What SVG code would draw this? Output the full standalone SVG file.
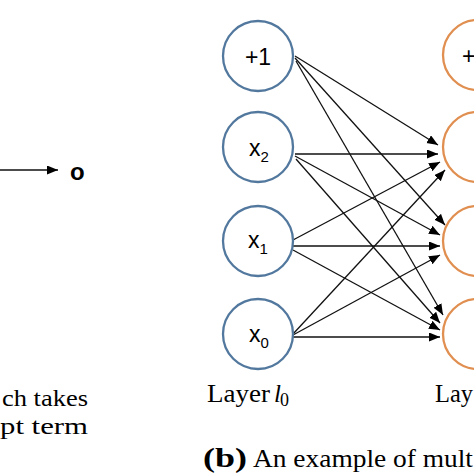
<svg xmlns="http://www.w3.org/2000/svg" width="474" height="474" viewBox="0 0 474 474">
<style>
.in{fill:#fff;stroke:#52789e;stroke-width:2.3}
.out{fill:#fff;stroke:#e08f50;stroke-width:2.3}
.lbl{font-family:"Liberation Sans",Arial,sans-serif;font-size:23px;fill:#000}
.sub{font-size:15px}
.serif{font-family:"Liberation Serif","Times New Roman",serif;fill:#000}
.edge{stroke:#111;stroke-width:1.3;fill:none;marker-end:url(#ah)}
</style>
<defs>
<marker id="ah" markerUnits="userSpaceOnUse" markerWidth="12" markerHeight="10" refX="11" refY="4.5" orient="auto">
<path d="M0,0 L11,4.5 L0,9 z" fill="#000"/>
</marker>
</defs>
<rect width="474" height="474" fill="#fff"/>
<g id="connectors">
<line class="edge" x1="-2" y1="170" x2="58" y2="170"/>
<line class="edge" x1="295" y1="56" x2="438" y2="145"/>
<line class="edge" x1="295" y1="58" x2="445" y2="225"/>
<line class="edge" x1="296" y1="61" x2="443" y2="315"/>
<line class="edge" x1="295" y1="154" x2="438" y2="154"/>
<line class="edge" x1="295" y1="156" x2="440" y2="235"/>
<line class="edge" x1="296" y1="159" x2="440" y2="323"/>
<line class="edge" x1="293" y1="240" x2="440" y2="162"/>
<line class="edge" x1="293" y1="246" x2="440" y2="246"/>
<line class="edge" x1="293" y1="250" x2="440" y2="330"/>
<line class="edge" x1="293" y1="334" x2="445" y2="170"/>
<line class="edge" x1="293" y1="335" x2="440" y2="255"/>
<line class="edge" x1="293" y1="337" x2="440" y2="337"/>
</g>
<g id="out-o"><text x="70" y="180" font-family="'Liberation Sans',Arial,sans-serif" font-weight="bold" font-size="24">o</text></g>
<g id="n-plus1"><circle class="in" cx="258" cy="56" r="35"/><text class="lbl" x="258" y="65" text-anchor="middle">+1</text></g>
<g id="n-x2"><circle class="in" cx="258" cy="147" r="35"/><text class="lbl" x="249" y="156">x<tspan class="sub" dy="6">2</tspan></text></g>
<g id="n-x1"><circle class="in" cx="258" cy="241" r="35"/><text class="lbl" x="248" y="248">x<tspan class="sub" dy="6">1</tspan></text></g>
<g id="n-x0"><circle class="in" cx="258" cy="334" r="35"/><text class="lbl" x="249" y="342">x<tspan class="sub" dy="6">0</tspan></text></g>
<g id="o-plus1"><circle class="out" cx="478" cy="55" r="35"/><text class="lbl" x="462" y="64">+</text></g>
<g id="o-2"><circle class="out" cx="478" cy="147" r="35"/></g>
<g id="o-3"><circle class="out" cx="478" cy="241" r="35"/></g>
<g id="o-4"><circle class="out" cx="478" cy="334" r="35"/></g>
<g id="captions">
<text class="serif" x="2" y="406" font-size="24" textLength="86" lengthAdjust="spacingAndGlyphs">ch takes</text>
<text class="serif" x="0" y="434" font-size="24" textLength="88" lengthAdjust="spacingAndGlyphs">pt term</text>
<text class="serif" x="207" y="402" font-size="25" textLength="63" lengthAdjust="spacingAndGlyphs">Layer</text>
<text class="serif" x="274" y="402" font-size="25" font-style="italic">l</text>
<text class="serif" x="280" y="406" font-size="18">0</text>
<text class="serif" x="435" y="402" font-size="25" textLength="38" lengthAdjust="spacingAndGlyphs">Lay</text>
<text class="serif" x="203" y="467" font-size="28" font-weight="bold" textLength="44" lengthAdjust="spacingAndGlyphs">(b)</text>
<text class="serif" x="253" y="467" font-size="25" textLength="220" lengthAdjust="spacingAndGlyphs">An example of mult</text>
</g>
</svg>
